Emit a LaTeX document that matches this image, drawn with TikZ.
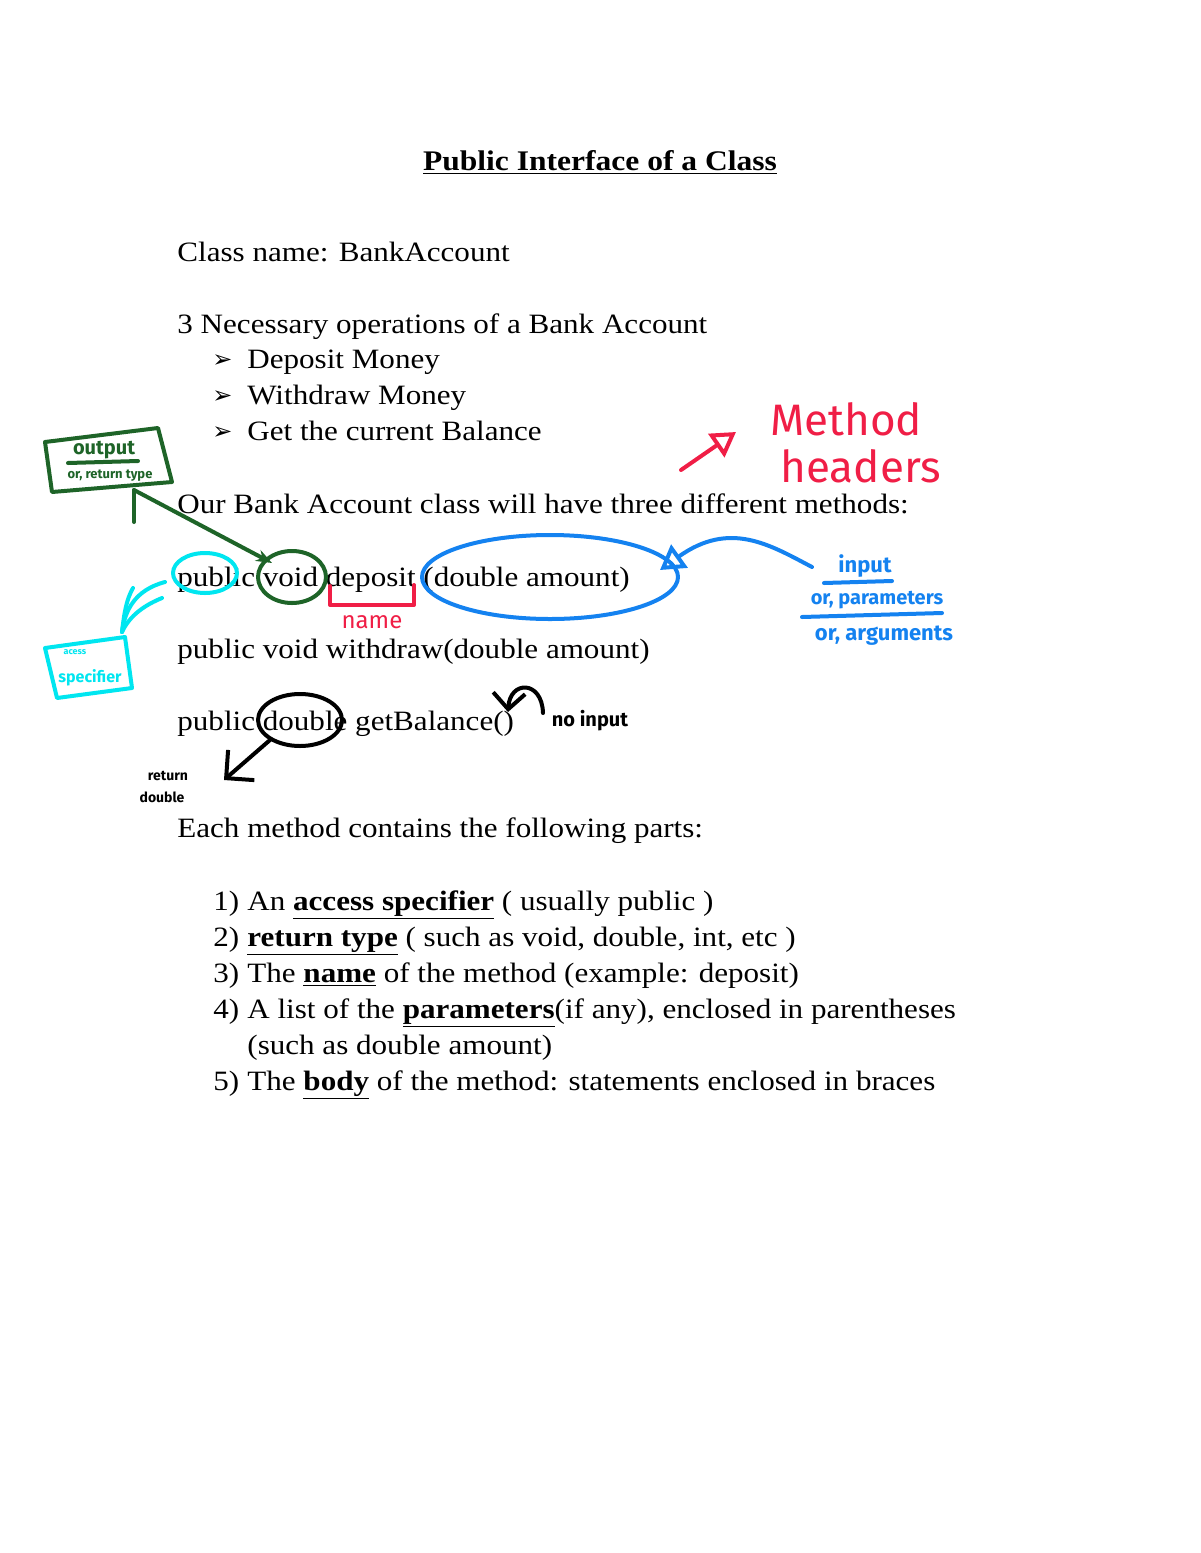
\documentclass[tikz,border=0pt]{standalone}
\usepackage{fontspec}
\setmainfont{Liberation Serif}[FakeStretch=1.11]
\newfontfamily\hand{Fira Sans}
\newfontfamily\dej{DejaVu Sans}
\usetikzlibrary{arrows.meta}
\definecolor{hgreen}{RGB}{30,100,40}
\definecolor{hcyan}{RGB}{0,230,240}
\definecolor{hred}{RGB}{240,30,70}
\definecolor{hblue}{RGB}{20,130,240}
\begin{document}
\begin{tikzpicture}[x=0.5pt,y=-0.5pt,
  txt/.style={anchor=base west,inner sep=0pt,font=\fontsize{14}{16}\selectfont},
  bul/.style={anchor=base west,inner sep=0pt,font=\dej\fontsize{12}{14}\selectfont},
  pen/.style={line width=2pt,line cap=round,line join=round},
  hw/.style={inner sep=0pt,font=\hand\bfseries}]
\useasboundingbox (0,0) rectangle (1200,1553);
\fill[white] (0,0) rectangle (1200,1553);
\node[inner sep=0pt,anchor=base,font=\fontsize{14.2}{16}\selectfont\bfseries] (title) at (600,170) {\underline{Public Interface of a Class}};
\node[txt] (cn) at (177,261) {Class name: BankAccount};
\node[txt] (ops) at (177,333) {3 Necessary operations of a Bank Account};
\node[bul] (k1) at (212,367) {➢};
\node[bul] (k2) at (212,403) {➢};
\node[bul] (k3) at (212,439) {➢};
\node[txt] (b1) at (247,368) {Deposit Money};
\node[txt] (b2) at (247,404) {Withdraw Money};
\node[txt] (b3) at (247,440) {Get the current Balance};
\node[txt] (our) at (177,513) {Our Bank Account class will have three different methods:};
\node[txt] (m1) at (177,586) {public void deposit (double amount)};
\node[txt] (m2) at (177,658) {public void withdraw(double amount)};
\node[txt] (m3) at (177,730) {public double getBalance()};
\node[txt] (each) at (177,837) {Each method contains the following parts:};
\node[txt] (n1) at (213,910) {1)};
\node[txt] (n2) at (213,946) {2)};
\node[txt] (n3) at (213,982) {3)};
\node[txt] (n4) at (213,1018) {4)};
\node[txt] (n5) at (213,1090) {5)};
\node[txt] (l1) at (247,910) {An \textbf{\underline{access specifier}} ( usually public )};
\node[txt] (l2) at (247,946) {\textbf{\underline{return type}} ( such as void, double, int, etc )};
\node[txt] (l3) at (247,982) {The \textbf{\underline{name}} of the method (example: deposit)};
\node[txt] (l4) at (247,1018) {A list of the \textbf{\underline{parameters}}(if any), enclosed in parentheses};
\node[txt] (l4b) at (247,1054) {(such as double amount)};
\node[txt] (l5) at (247,1090) {The \textbf{\underline{body}} of the method: statements enclosed in braces};
% green annotation
\draw[pen,hgreen] (45,442) -- (158,428) -- (172,482) -- (52,492) -- cycle;
\node[hw,text=hgreen,font=\hand\bfseries\fontsize{10}{10}\selectfont] (out) at (104,450) {output};
\draw[pen,hgreen] (68,463) -- (138,461);
\node[hw,text=hgreen,font=\hand\bfseries\fontsize{6.5}{7}\selectfont] (ort) at (110,476) {or, return type};
\coordinate (gs) at (134,490);
\coordinate (gd) at (134,522);
\draw[pen,hgreen] (gs) -- (gd);
\draw[pen,hgreen] (292,577) ellipse[x radius=34,y radius=26];
\draw[pen,hgreen,-{Stealth[length=8pt]}] (gs) -- (272,563);
% cyan
\draw[pen,hcyan] (205,573) ellipse[x radius=32,y radius=20];
\draw[pen,hcyan] (165,582) .. controls (135,590) and (125,610) .. (122,632);
\draw[pen,hcyan] (133,588) .. controls (126,600) and (124,615) .. (122,632);
\draw[pen,hcyan] (162,598) .. controls (145,605) and (130,615) .. (122,632);
\draw[pen,hcyan] (45,648) -- (125,637) -- (132,688) -- (57,698) -- cycle;
\node[hw,text=hcyan,font=\hand\bfseries\fontsize{4.5}{5}\selectfont] (acc) at (75,652) {acess};
\node[hw,text=hcyan,font=\hand\bfseries\fontsize{8}{9}\selectfont] (spec) at (90,678) {specifier};
% red
\draw[pen,hred] (330,586) -- (330,605) -- (414,605) -- (414,585);
\node[hw,text=hred,font=\hand\fontsize{12}{12}\selectfont] (nm) at (372,622) {name};
\draw[pen,hred,-{Triangle[open,length=12pt,width=14pt]}] (681,470) -- (736,432);
\node[hw,text=hred,font=\hand\fontsize{22}{22}\selectfont,anchor=base west] (mth) at (770,435) {Method};
\node[hw,text=hred,font=\hand\fontsize{22}{22}\selectfont,anchor=base west] (hdr) at (780,482) {headers};
% blue
\draw[pen,hblue] (550,577) ellipse[x radius=128,y radius=42];
\draw[pen,hblue,-{Triangle[open,length=12pt,width=14pt]}] (812,567) .. controls (770,545) and (730,520) .. (660,570);
\node[hw,text=hblue,font=\hand\bfseries\fontsize{11}{11}\selectfont] (inp) at (865,566) {input};
\draw[pen,hblue] (824,583) -- (892,581);
\node[hw,text=hblue,font=\hand\bfseries\fontsize{10}{10}\selectfont] (par) at (877,600) {or, parameters};
\draw[pen,hblue] (802,617) -- (942,613);
\node[hw,text=hblue,font=\hand\bfseries\fontsize{11}{11}\selectfont] (arg) at (884,636) {or, arguments};
% black
\draw[pen,black] (300,720) ellipse[x radius=42,y radius=26];
\draw[pen,black,-{Straight Barb[length=10pt]}] (270,740) -- (224,780);
\node[hw,font=\hand\bfseries\fontsize{7}{7}\selectfont] (ret) at (168,776) {return};
\node[hw,font=\hand\bfseries\fontsize{7}{7}\selectfont] (dbl) at (162,797) {double};
\draw[pen,black,-{Straight Barb[length=8pt]}] (543,713) .. controls (542,680) and (510,680) .. (508,712);
\node[hw,font=\hand\bfseries\fontsize{10}{10}\selectfont] (noi) at (590,721) {no input};
\end{tikzpicture}
\end{document}
